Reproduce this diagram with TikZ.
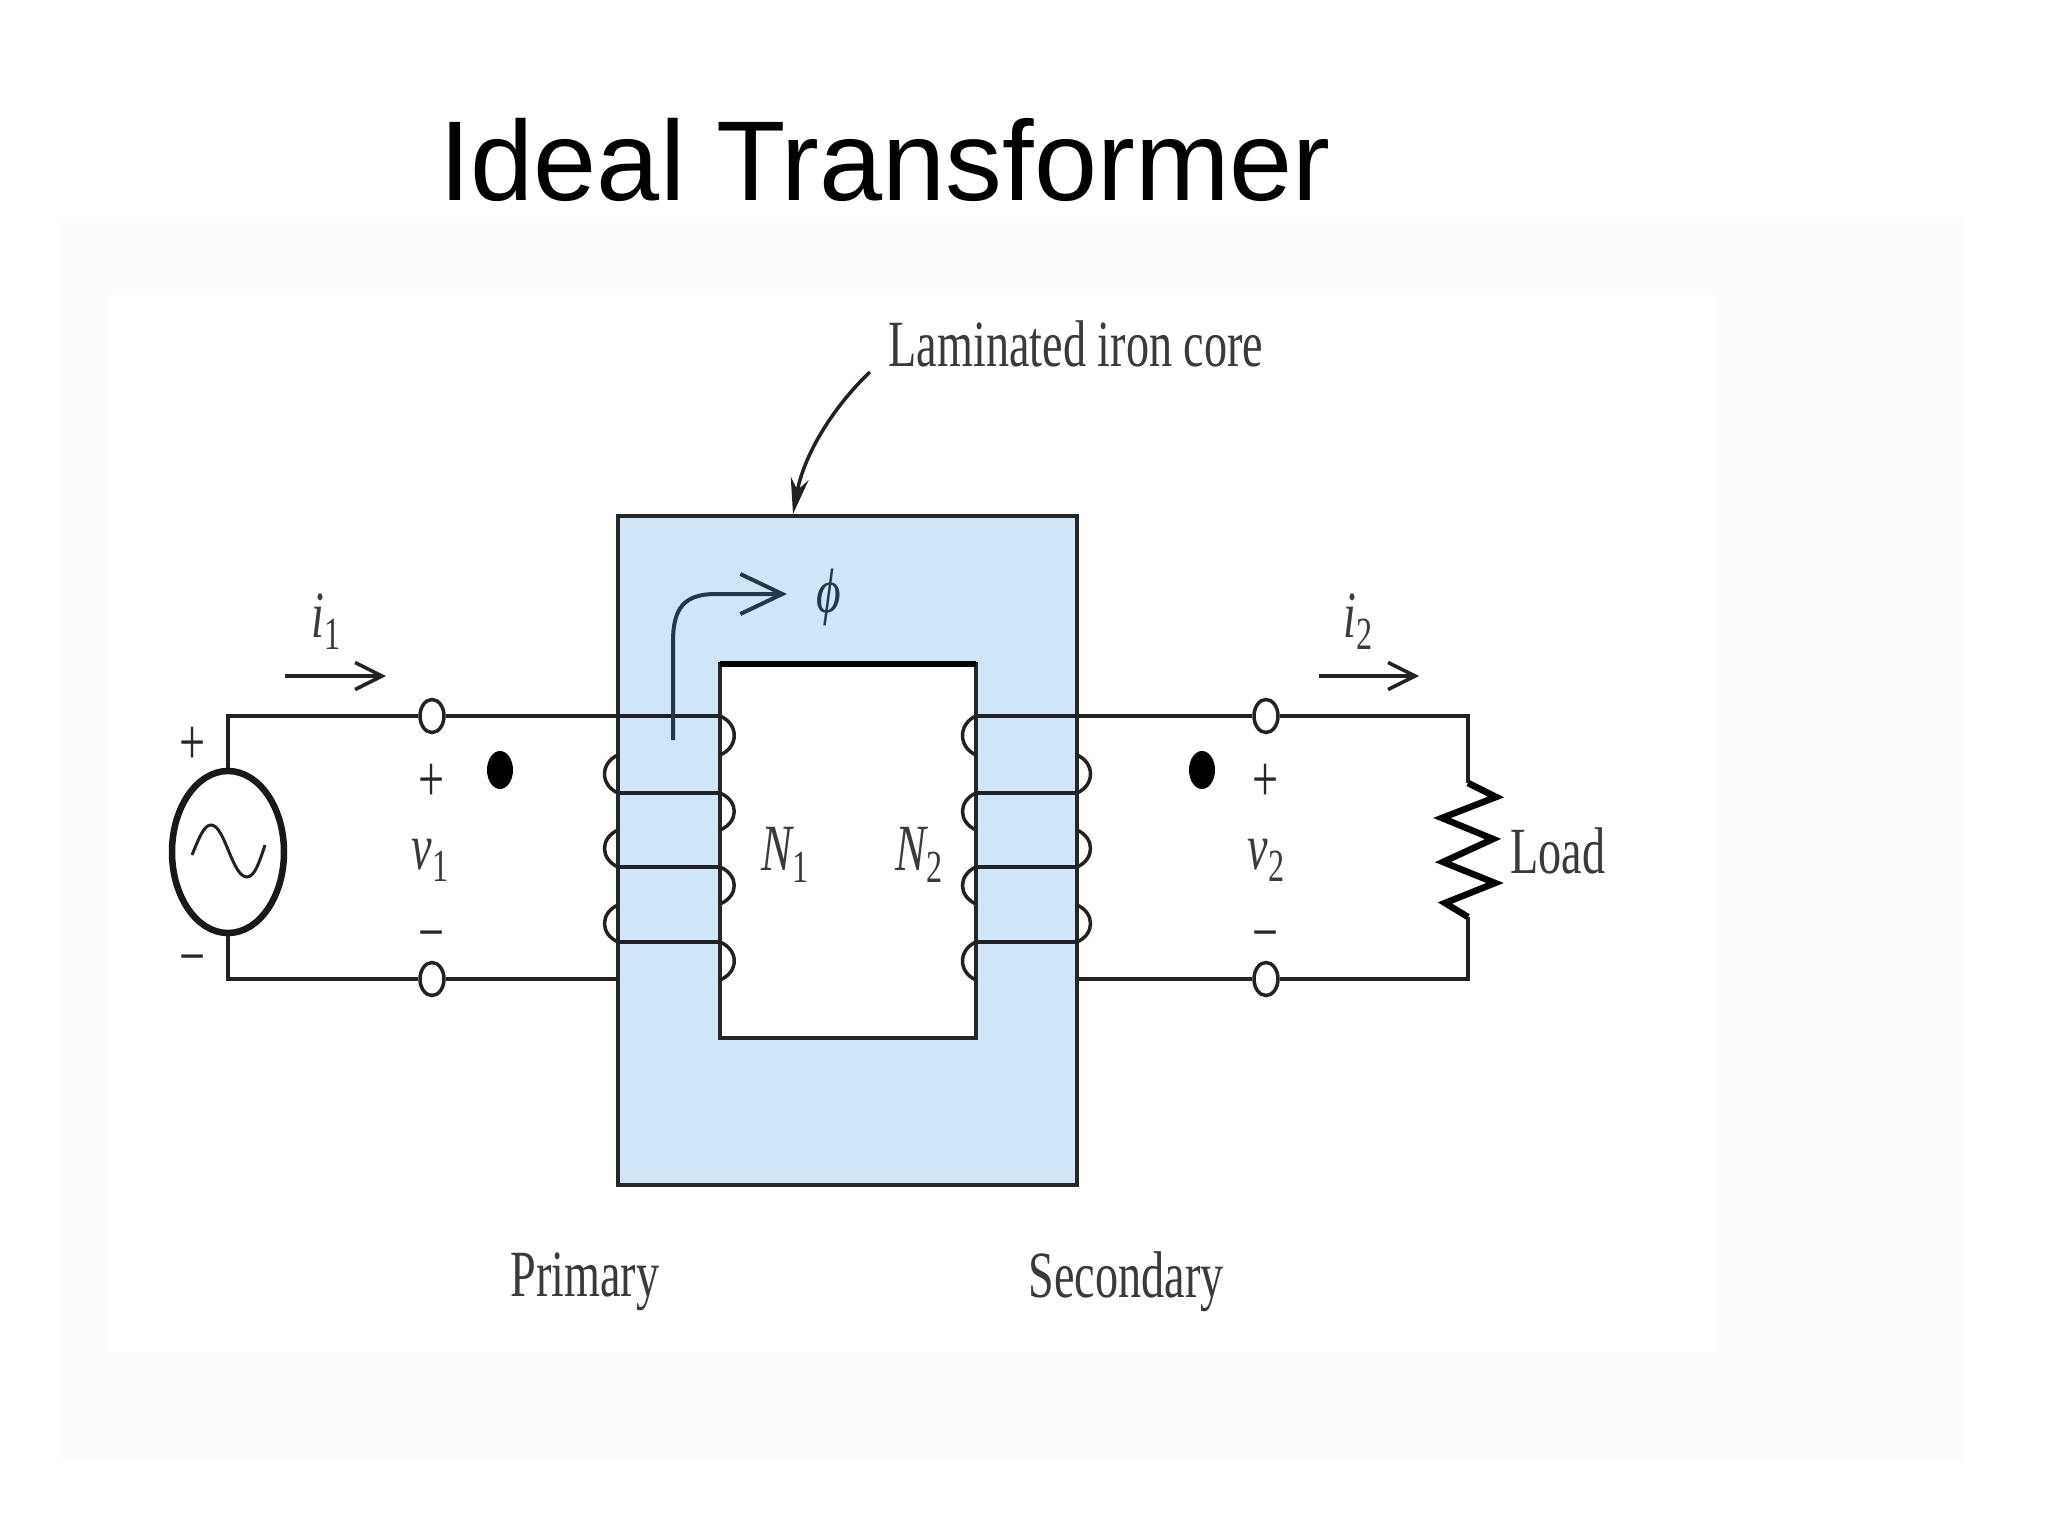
\documentclass[tikz,border=0pt]{standalone}
\usepackage{fontspec}
\usepackage{graphicx}
\setmainfont{Liberation Serif}
\newfontfamily\titlefont{Liberation Sans}
\usetikzlibrary{arrows.meta,shapes.geometric}
\definecolor{corefill}{HTML}{D0E6F8}
\definecolor{wirecol}{HTML}{222222}
\definecolor{labelcol}{HTML}{3A3A3A}
\definecolor{fluxcol}{HTML}{22394A}
\definecolor{panelouter}{HTML}{FBFCFC}
\definecolor{panelinner}{HTML}{FFFFFF}
\newcommand{\lbl}[1]{\scalebox{.7}[1]{\fontsize{66}{66}\selectfont #1}}
\newcommand{\symb}[2]{\scalebox{.7}[1]{\fontsize{66}{66}\selectfont\itshape #1\raisebox{-12pt}{\fontsize{46}{46}\selectfont\upshape #2}}}
\tikzset{
  wire/.style={draw=wirecol,line width=3.5pt},
  coreline/.style={draw=black!85,line width=4.5pt},
  label/.style={inner sep=0pt,text=labelcol},
  terminal/.style={ellipse,draw=wirecol,fill=white,line width=3.5pt,minimum width=24pt,minimum height=33pt,inner sep=0pt},
  polarity/.style={ellipse,fill=black,minimum width=26pt,minimum height=38pt,inner sep=0pt},
  barb/.style={-{Straight Barb[length=27pt,width=27pt,line width=3.5pt]},line width=3.5pt,draw=wirecol},
}
\begin{document}
\begin{tikzpicture}[x=1pt,y=-1pt]
\useasboundingbox (0,0) rectangle (2048,1536);
\fill[panelouter] (57,219) rectangle (1964,1460);
\fill[panelinner] (110,295) rectangle (1714,1352);
\node[anchor=base west,inner sep=0pt,font=\titlefont\fontsize{113.5}{113.5}\selectfont] (title) at (439,200) {Ideal Transformer};

% core
\node[draw=none,fill=corefill,minimum width=459pt,minimum height=669pt,inner sep=0pt] (core) at (847.5,850.5) {};
\draw[coreline] (core.north west) rectangle (core.south east);
\fill[white] (720,664) rectangle (976,1038);
\draw[coreline] (720,664) rectangle (976,1038);
\draw[draw=black,line width=6pt] (720,664) -- (976,664);

% source and terminals
\node[ellipse,draw=black!90,line width=6.5pt,minimum width=112pt,minimum height=162pt,inner sep=0pt] (src) at (228,852) {};
\node[terminal] (t1a) at (432,716) {};
\node[terminal] (t1b) at (432,979) {};
\node[terminal] (t2a) at (1266,716) {};
\node[terminal] (t2b) at (1266,979) {};
\node[polarity] (d1) at (500,770) {};
\node[polarity] (d2) at (1202,770) {};

\coordinate (pin1) at (720,716);
\coordinate (pin2) at (618,979);
\coordinate (sin1) at (976,716);
\coordinate (sin2) at (1077,979);
\coordinate (ltop) at (1468,716);
\coordinate (lbot) at (1468,979);
\coordinate (ra) at (1468,783);
\coordinate (rb) at (1468,917);

% wires
\draw[wire] (src.north) |- (t1a.west);
\draw[wire] (src.south) |- (t1b.west);
\draw[wire] (t1a.east) -- (pin1);
\draw[wire] (t1b.east) -- (pin2);
\draw[wire] (sin1) -- (t2a.west);
\draw[wire] (sin2) -- (t2b.west);
\draw[wire] (t2a.east) -- (ltop) -- (ra);
\draw[wire] (t2b.east) -- (lbot) -- (rb);
\draw[draw=black,line width=6.5pt,line join=miter] (ra) -- (1496,797) -- (1442,818) -- (1493,839) -- (1443,862) -- (1495,883) -- (1445,903) -- (rb);

% sine
\draw[draw=wirecol,line width=3pt] (192,855) .. controls (199,838) and (204,825) .. (211,825) .. controls (225,825) and (232,877) .. (247,877) .. controls (255,877) and (260,860) .. (265,845);

% windings
\foreach \ya/\yb in {793/755,867/830,942/905}{
  \draw[wire] (618,\ya) -- (720,\ya);
  \draw[wire] (976,\ya) -- (1077,\ya);
  \draw[wire] (618,\ya) .. controls (600,\ya-8) and (600,\yb+8) .. (618,\yb);
  \draw[wire] (1077,\ya) .. controls (1095,\ya-8) and (1095,\yb+8) .. (1077,\yb);
}
\foreach \ya/\yb in {716/755,793/830,867/904,942/980}{
  \draw[wire] (720,\ya) .. controls (739,\ya+8) and (739,\yb-8) .. (720,\yb);
  \draw[wire] (976,\ya) .. controls (958,\ya+8) and (958,\yb-8) .. (976,\yb);
}

% arrows
\coordinate (i1a) at (285,676); \coordinate (i1b) at (386,676);
\coordinate (i2a) at (1319,676); \coordinate (i2b) at (1419,676);
\draw[barb] (i1a) -- (i1b);
\draw[barb] (i2a) -- (i2b);
\coordinate (fluxa) at (673,740); \coordinate (fluxb) at (787,594);
\draw[-{Straight Barb[length=42pt,width=40pt,line width=4pt]},line width=4pt,draw=fluxcol] (fluxa) -- (673,642) .. controls (673,608) and (684,594) .. (716,594) -- (fluxb);
\coordinate (coreptr) at (870,372);
\draw[-{Stealth[length=36pt,width=18pt]},draw=wirecol,line width=3.5pt] (coreptr) .. controls (838,402) and (805,450) .. (793,514);

% labels
\node[label] (lcore) at (1076,344) {\lbl{Laminated iron core}};
\node[label] (lprim) at (585,1282) {\lbl{Primary}};
\node[label] (lsec) at (1126,1282) {\lbl{Secondary}};
\node[label] (lload) at (1558,851) {\lbl{Load}};
\node[label] (li1) at (326,622) {\symb{i}{1}};
\node[label] (li2) at (1358,622) {\symb{i}{2}};
\node[label] (lv1) at (430,860) {\symb{v}{1}};
\node[label] (lv2) at (1266,860) {\symb{v}{2}};
\node[label] (ln1) at (785,855) {\symb{N}{1}};
\node[label] (ln2) at (919,855) {\symb{N}{2}};
\node[label,text=fluxcol] (lphi) at (829,597) {\scalebox{.72}[.95]{\fontsize{66}{66}\selectfont\itshape ϕ}};
\node[label,text=black!85] (p1) at (432,783) {\lbl{+}};
\node[label,text=black!85] (m1) at (432,943) {\lbl{−}};
\node[label,text=black!85] (p2) at (1266,783) {\lbl{+}};
\node[label,text=black!85] (m2) at (1266,943) {\lbl{−}};
\node[label,text=black!85] (ps) at (193,746) {\lbl{+}};
\node[label,text=black!85] (ms) at (193,967) {\lbl{−}};
\end{tikzpicture}
\end{document}
